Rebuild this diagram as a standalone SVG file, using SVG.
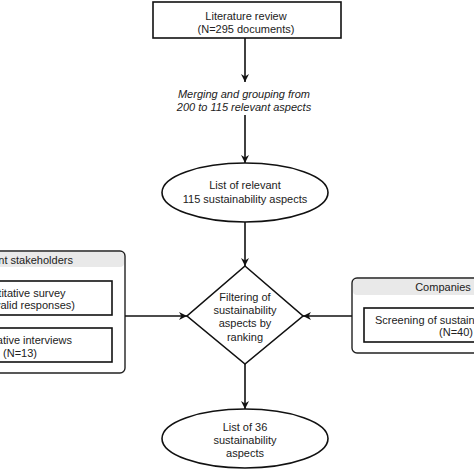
<svg xmlns="http://www.w3.org/2000/svg" width="474" height="474" viewBox="0 0 474 474">
<defs>
<style>
text{font-family:"Liberation Sans",Arial,sans-serif;font-size:11px;fill:#222}
.c{text-anchor:middle}
.it{font-style:italic}
.shape{fill:#fff;stroke:#111;stroke-width:1.6}
.cont{fill:#fff;stroke:#222;stroke-width:1.4}
.hdr{fill:#e9e9e9;stroke:none}
.edge{fill:none;stroke:#111;stroke-width:1.6}
</style>
<marker id="ah" viewBox="0 0 10 10" refX="10" refY="5" markerWidth="8" markerHeight="8" orient="auto" markerUnits="userSpaceOnUse">
<path d="M0,0 L10,5 L0,10 L3,5 z" fill="#111"/>
</marker>
</defs>
<rect width="474" height="474" fill="#fff"/>

<g id="literature">
<rect class="shape" x="153" y="2" width="188" height="36"/>
<text class="c" x="246" y="20">Literature review</text>
<text class="c" x="246" y="33">(N=295 documents)</text>
</g>

<g id="merging">
<text class="c it" x="244" y="98">Merging and grouping from</text>
<text class="c it" x="244" y="111">200 to 115 relevant aspects</text>
</g>

<g id="list115">
<ellipse class="shape" cx="245" cy="192.5" rx="83" ry="29.5"/>
<text class="c" x="245" y="189">List of relevant</text>
<text class="c" x="245" y="203">115 sustainability aspects</text>
</g>

<g id="filtering">
<polygon class="shape" points="245,266 303,316 245,364 187,316"/>
<text class="c" x="245" y="301">Filtering of</text>
<text class="c" x="245" y="314">sustainability</text>
<text class="c" x="245" y="327">aspects by</text>
<text class="c" x="245" y="341">ranking</text>
</g>

<g id="list36">
<ellipse class="shape" cx="245" cy="438.5" rx="83" ry="29.5"/>
<text class="c" x="245" y="431">List of 36</text>
<text class="c" x="245" y="444">sustainability</text>
<text class="c" x="245" y="457">aspects</text>
</g>

<g id="stakeholders">
<rect class="cont" x="-90" y="251" width="215" height="122" rx="5"/>
<rect class="hdr" x="-89" y="252" width="213" height="15" rx="4"/>
<text class="c" x="18.5" y="264">Relevant stakeholders</text>
<rect class="shape" x="-75" y="281" width="187" height="34"/>
<text class="c" x="18.5" y="297">Quantitative survey</text>
<text x="75" y="309" style="text-anchor:end">valid responses)</text>
<rect class="shape" x="-75" y="328" width="187" height="34"/>
<text class="c" x="20" y="344">Qualitative interviews</text>
<text class="c" x="20" y="357">(N=13)</text>
</g>

<g id="companies">
<rect class="cont" x="352" y="278" width="200" height="75" rx="5"/>
<rect class="hdr" x="353" y="279" width="198" height="16" rx="4"/>
<text class="c" x="443" y="291">Companies</text>
<rect class="shape" x="364" y="308" width="186" height="34"/>
<text x="375" y="324">Screening of sustainability reports</text>
<text class="c" x="456" y="336">(N=40)</text>
</g>

<g id="connectors">
<line class="edge" x1="245" y1="38" x2="245" y2="82" marker-end="url(#ah)"/>
<line class="edge" x1="245" y1="115" x2="245" y2="163" marker-end="url(#ah)"/>
<line class="edge" x1="245" y1="222" x2="245" y2="266" marker-end="url(#ah)"/>
<line class="edge" x1="245" y1="364" x2="245" y2="409" marker-end="url(#ah)"/>
<line class="edge" x1="125" y1="316" x2="187" y2="316" marker-end="url(#ah)"/>
<line class="edge" x1="352" y1="316" x2="303" y2="316" marker-end="url(#ah)"/>
</g>
</svg>
